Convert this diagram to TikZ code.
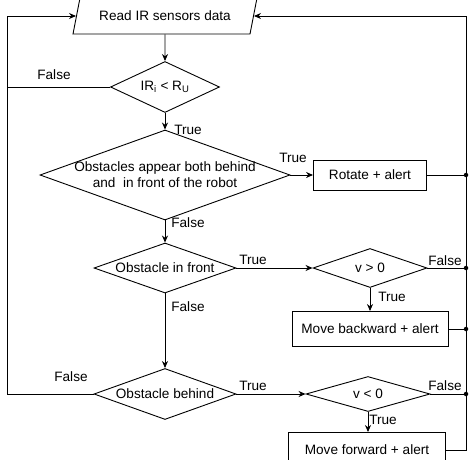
\documentclass[tikz,border=0pt]{standalone}
\usepackage{fontspec}
\setmainfont{Liberation Sans}
\usetikzlibrary{shapes.geometric,arrows.meta,positioning}

\tikzset{
  box/.style={draw, rectangle, inner sep=0pt},
  decision/.style={draw, diamond, inner sep=0pt},
  flow/.style={-{Stealth[length=7pt,width=6pt]}},
  tag/.style={inner sep=0pt},
  joint/.style={fill, circle, inner sep=0pt, minimum size=4.5pt}
}

\begin{document}
\begin{tikzpicture}[x=1pt, y=-1pt, line width=0.9pt, font=\fontsize{13.6}{16}\selectfont]
\useasboundingbox (0,0) rectangle (474,460);
\clip (0,0) rectangle (474,460);

% Input block
\node[draw, trapezium, trapezium left angle=55, trapezium right angle=125, trapezium stretches body,
      minimum width=184, minimum height=36, inner sep=0pt] (read) at (165,16) {Read IR sensors data};

% Decisions
\node[decision, minimum width=109, minimum height=51, aspect=2.1] (range) at (165,87) {IR\textsubscript{i} < R\textsubscript{U}};
\node[decision, minimum width=250, minimum height=90, aspect=2.8, inner sep=-3pt, align=center] (both) at (165,175)
     {Obstacles appear both behind\\and~ in front of the robot};
\node[decision, minimum width=142, minimum height=50, aspect=2.8] (front) at (165,268) {Obstacle in front};
\node[decision, minimum width=142, minimum height=51, aspect=2.8] (behind) at (165,394) {Obstacle behind};
\node[decision, minimum width=114, minimum height=39, aspect=2.9] (vpos) at (370,268) {v > 0};
\node[decision, minimum width=124, minimum height=35, aspect=3.5] (vneg) at (368,394) {v < 0};

% Actions
\node[box, minimum width=113, minimum height=30] (rotate) at (370,175) {Rotate + alert};
\node[box, minimum width=156, minimum height=35] (back) at (370,329) {Move backward + alert};
\node[box, minimum width=157, minimum height=35] (fwd) at (367,450) {Move forward + alert};

% Return lines
\coordinate (rbus) at (466,0);
\coordinate (lbus) at (7,0);

% Main flow
\draw[flow] (read) -- (range);
\draw[flow] (range) -- (both);
\draw[flow] (both) -- (front);
\draw[flow] (front) -- (behind);
\draw[flow] (both) -- (rotate);
\draw[flow] (front) -- (vpos);
\draw[flow] (vpos) -- (back);
\draw[flow] (behind) -- (vneg);
\draw[flow] (vneg.south) -- (vneg.south |- fwd.north);

% Back to the sensors
\draw[flow] (fwd.east) -- (fwd.east -| rbus) |- (read.east);
\foreach \src/\n in {rotate/1, vpos/2, back/3, vneg/4} {
    \draw (\src.east) -- (\src.east -| rbus) node[joint] (j\n) {};
}
\draw[flow] (behind.west) -- (behind.west -| lbus) |- (read.west);
\draw (range.west) -- (range.west -| lbus);

% Branch labels
\foreach \n/\x/\y/\t in {f1/54/75/False, t1/188/130/True, t2/293/158/True, f2/188/223/False,
                         t3/253/260/True, f3/445/261/False, t4/392/297/True, f4/188/307/False,
                         f5/71/377/False, t5/253/386/True, f6/445/386/False, t6/383/420/True} {
    \node[tag] (\n) at (\x,\y) {\t};
}

\end{tikzpicture}
\end{document}
